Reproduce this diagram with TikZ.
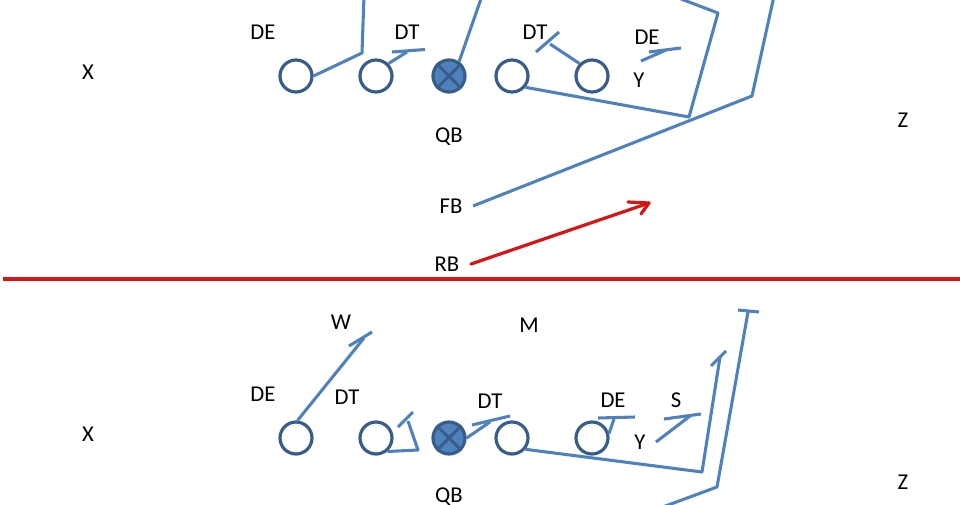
\documentclass[tikz,border=0pt]{standalone}
\usepackage{fontspec}
\setmainfont{Carlito}
\definecolor{routeblue}{HTML}{4F81BD}
\definecolor{ringblue}{HTML}{385D8A}
\definecolor{playred}{HTML}{D81414}
\tikzset{
    player/.style={circle, draw=ringblue, line width=2.4pt, fill=white, minimum size=24pt, inner sep=0pt},
    passer/.style={player, fill=routeblue},
    route/.style={routeblue, line width=2.3pt, line join=round},
    label/.style={font=\fontsize{17}{20}\selectfont, text=black, inner sep=0pt}
}

\begin{document}
\begin{tikzpicture}[x=0.75pt, y=-0.75pt]
    \clip (0,0) rectangle (960,504);

    % Players, upper and lower diagram
    \foreach \name/\y in {up/76, low/438} {
        \node[player] (\name DE) at (296,\y) {};
        \node[player] (\name LG) at (376,\y) {};
        \node[passer] (\name QB) at (449,\y) {};
        \node[player] (\name RG) at (512,\y) {};
        \node[player] (\name TE) at (592,\y) {};
        \draw[ringblue, line width=2.2pt] (\name QB.45) -- (\name QB.225);
        \draw[ringblue, line width=2.2pt] (\name QB.135) -- (\name QB.315);
    }

    % Labels, upper diagram
    \foreach \name/\x/\y/\txt in {a/263/32/DE, b/407/32/DT, c/535/32/DT, d/647/37/DE, e/639/80/Y,
        f/88/72/X, g/449/137/QB, h/903/120/Z, i/451/206/FB, j/447/264/RB} {
        \node[label] (\name) at (\x,\y) {\txt};
    }
    % Labels, lower diagram
    \foreach \name/\x/\y/\txt in {k/341/322/W, l/529/325/M, m/263/394/DE, n/347/397/DT, o/490/401/DT,
        p/613/400/DE, q/676/400/S, r/640/442/Y, s/88/434/X, t/449/497/QB, u/903/482/Z} {
        \node[label] (\name) at (\x,\y) {\txt};
    }

    % Route points, upper diagram
    \foreach \name/\x/\y in {ua/362/53, ub/364/-4, uc/407/52, ud/392/52, ue/425/49.5, uf/482/-4,
        ug/689/117, uh/718/13, ui/681/-1, uj/550/44, uk/536/52, ul/559/32,
        um/641/61, un/666/50, uo/649/52, up/681/48, uq/473/206, ur/752/96, us/774/-4} {
        \coordinate (\name) at (\x,\y);
    }
    % Route points, lower diagram
    \foreach \name/\x/\y in {la/364/338, lb/349/346, lc/372/332, ld/418/450, le/408/421, lf/398/427,
        lg/413/412, lh/490/422, li/472/425, lj/510/416, lk/702/472, ll/720/357, lm/711/366, ln/726/351,
        lo/614/419, lp/598/418, lq/635/417, lr/656/442, ls/690/416, lt/664/419, lu/701/414,
        lv/660/508, lw/717/487, lx/748/312, ly/738/310, lz/759/312} {
        \coordinate (\name) at (\x,\y);
    }

    % Upper routes
    \draw[route] (upDE.east) -- (ua) -- (ub);
    \draw[route] (upLG.45) -- (uc);
    \draw[route] (ud) -- (ue);
    \draw[route] (upQB.55) -- (uf);
    \draw[route] (upRG.-40) -- (ug) -- (uh) -- (ui);
    \draw[route] (upTE.135) -- (uj);
    \draw[route] (uk) -- (ul);
    \draw[route] (um) -- (un);
    \draw[route] (uo) -- (up);
    \draw[route] (uq) -- (ur) -- (us);

    % Lower routes
    \draw[route] (lowDE.85) -- (la);
    \draw[route] (lb) -- (lc);
    \draw[route] (lowLG.-50) -- (ld) -- (le);
    \draw[route] (lf) -- (lg);
    \draw[route] (lowQB.east) -- (lh);
    \draw[route] (li) -- (lj);
    \draw[route] (lowRG.-40) -- (lk) -- (ll);
    \draw[route] (lm) -- (ln);
    \draw[route] (lowTE.15) -- (lo);
    \draw[route] (lp) -- (lq);
    \draw[route] (lr) -- (ls);
    \draw[route] (lt) -- (lu);
    \draw[route] (lv) -- (lw) -- (lx);
    \draw[route] (ly) -- (lz);

    % Divider and red arrow
    \coordinate (divL) at (3,279);
    \coordinate (divR) at (960,279);
    \coordinate (redtip) at (649,203);
    \coordinate (redtail) at (471,264);
    \draw[playred, line width=2.4pt] (divL) -- (divR);
    \draw[playred, line width=2.4pt, line cap=round] (redtail) -- (redtip);
    \coordinate (redA) at (628,202);
    \coordinate (redB) at (641,214);
    \draw[playred, line width=2.4pt, line cap=round, line join=round] (redA) -- (redtip) -- (redB);
\end{tikzpicture}
\end{document}
